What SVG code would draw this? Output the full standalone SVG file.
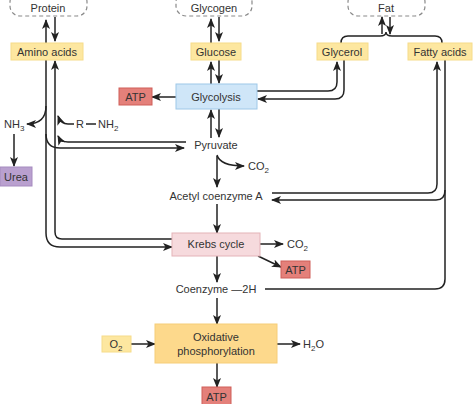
<svg xmlns="http://www.w3.org/2000/svg" width="474" height="404" viewBox="0 0 474 404">
<defs>
<marker id="ah" viewBox="0 0 10 8" refX="9" refY="4" markerWidth="10" markerHeight="8" markerUnits="userSpaceOnUse" orient="auto">
<path d="M0,0 L10,4 L0,8 L2.5,4 z" fill="#222"/>
</marker>
<style>
text{font-family:"Liberation Sans",Arial,sans-serif;font-size:11px;fill:#333;text-anchor:middle}
.dash{fill:#fff;stroke:#8a8a8a;stroke-width:1.2;stroke-dasharray:4 3}
.yel{fill:#fde7a0;stroke:#f6dc8a;stroke-width:1}
.blue{fill:#cfe6f8;stroke:#9ec8e8;stroke-width:1}
.red{fill:#e4807a;stroke:#cf5e58;stroke-width:1}
.pur{fill:#b9a0cf;stroke:#a68bbf;stroke-width:1}
.pink{fill:#f6dadd;stroke:#e4b3b8;stroke-width:1}
.org{fill:#fdd98c;stroke:#f6cd78;stroke-width:1}
.c path,.c line{fill:none;stroke:#222;stroke-width:1.5}
.a{marker-end:url(#ah)}
.lft{text-anchor:start}
</style>
</defs>
<rect width="474" height="404" fill="#fff"/>

<g class="c" id="connectors">
<!-- protein / amino acids -->
<path class="a" d="M46,43 L46,20"/>
<path class="a" d="M55,17 L55,41"/>
<!-- glycogen / glucose / glycolysis / pyruvate -->
<path class="a" d="M211,43 L211,19"/>
<path class="a" d="M219,17 L219,41"/>
<path class="a" d="M211,84 L211,62"/>
<path class="a" d="M219,60 L219,83"/>
<path class="a" d="M211,138 L211,110"/>
<path class="a" d="M219,109 L219,137"/>
<!-- glycolysis -> ATP -->
<path class="a" d="M176,97 L152,97"/>
<!-- glycolysis / glycerol -->
<path class="a" d="M257,91 L328,91 Q337,91 337,82 L337,62"/>
<path class="a" d="M344,60 L344,90 Q344,99 335,99 L258,99"/>
<!-- fat bracket -->
<path d="M341,43 Q341,36 348,36 L380,36 Q386,36 386,32 Q386,36 392,36 L435,36 Q442,36 442,43"/>
<path class="a" d="M382,34 L382,17"/>
<path class="a" d="M390,17 L390,34"/>
<!-- amino acid long lines -->
<path class="a" d="M46,60 L46,233 Q46,247 60,247 L172,247"/>
<path class="a" d="M172,239 L62,239 Q55,239 55,232 L55,61"/>
<!-- NH3 branch -->
<path class="a" d="M46,106 C46,118 40,124 27,124"/>
<path class="a" d="M14,134 L14,166"/>
<!-- R-NH2 -->
<path class="a" d="M74,124 L68,124 Q61,124 58,116"/>
<line x1="86" y1="124" x2="96" y2="124"/>
<!-- pyruvate branches -->
<path class="a" d="M46,134 Q46,148 60,148 L184,148"/>
<path class="a" d="M186,142 L68,142 Q61,142 58,136"/>
<!-- pyruvate -> CO2 -->
<path class="a" d="M217,155 Q220,166 244,166"/>
<path class="a" d="M217,156 L217,187"/>
<!-- acetyl CoA / fatty acids -->
<path class="a" d="M272,193 L428,193 Q437,193 437,184 L437,62"/>
<path d="M445,60 L445,279 Q445,289 435,289 L265,289"/>
<path class="a" d="M445,190 Q445,200 436,200 L272,200"/>
<!-- acetyl -> krebs -->
<path class="a" d="M217,204 L217,233"/>
<!-- krebs outputs -->
<path class="a" d="M260,244 L283,244"/>
<path class="a" d="M258,256 L281,267"/>
<path class="a" d="M217,256 L217,282"/>
<!-- coenzyme -> oxphos -->
<path class="a" d="M217,298 L217,324"/>
<path class="a" d="M131,344 L155,344"/>
<path class="a" d="M277,344 L300,344"/>
<path class="a" d="M217,363 L217,387"/>
</g>

<g id="protein"><rect class="dash" x="10" y="-8" width="77" height="24" rx="10"/><text x="48" y="12">Protein</text></g>
<g id="glycogen"><rect class="dash" x="176" y="-8" width="76" height="24" rx="10"/><text x="214" y="12">Glycogen</text></g>
<g id="fat"><rect class="dash" x="348" y="-8" width="77" height="24" rx="10"/><text x="386" y="12">Fat</text></g>

<g id="amino-acids"><rect class="yel" x="11" y="43" width="72" height="17"/><text x="47" y="56">Amino acids</text></g>
<g id="glucose"><rect class="yel" x="191" y="43" width="50" height="17"/><text x="216" y="56">Glucose</text></g>
<g id="glycerol"><rect class="yel" x="317" y="43" width="51" height="17"/><text x="342" y="56">Glycerol</text></g>
<g id="fatty-acids"><rect class="yel" x="408" y="43" width="64" height="17"/><text x="440" y="56">Fatty acids</text></g>

<g id="glycolysis"><rect class="blue" x="176" y="84" width="81" height="25"/><text x="216" y="101">Glycolysis</text></g>
<g id="atp1"><rect class="red" x="119" y="88" width="33" height="17"/><text x="135.5" y="101">ATP</text></g>

<g id="nh3"><text class="lft" x="4" y="128">NH<tspan font-size="8" dy="3">3</tspan></text></g>
<g id="urea"><rect class="pur" x="0" y="167" width="32" height="19"/><text x="16" y="181">Urea</text></g>
<g id="rnh2"><text class="lft" x="76" y="128">R</text><text class="lft" x="98" y="128">NH<tspan font-size="8" dy="3">2</tspan></text></g>

<g id="pyruvate"><text x="216" y="149">Pyruvate</text></g>
<g id="co2a"><text class="lft" x="248" y="170">CO<tspan font-size="8" dy="3">2</tspan></text></g>
<g id="acetyl"><text x="216" y="200">Acetyl coenzyme A</text></g>

<g id="krebs"><rect class="pink" x="172" y="233" width="88" height="23"/><text x="216" y="248">Krebs cycle</text></g>
<g id="co2b"><text class="lft" x="287" y="248">CO<tspan font-size="8" dy="3">2</tspan></text></g>
<g id="atp2"><rect class="red" x="281" y="261" width="29" height="17"/><text x="295.5" y="274">ATP</text></g>

<g id="coenzyme"><text x="216" y="293">Coenzyme —2H</text></g>

<g id="oxphos"><rect class="org" x="155" y="324" width="122" height="39"/><text x="216" y="341">Oxidative</text><text x="216" y="355">phosphorylation</text></g>
<g id="o2"><rect class="yel" x="102" y="336" width="29" height="16"/><text x="116" y="348">O<tspan font-size="8" dy="3">2</tspan></text></g>
<g id="h2o"><text class="lft" x="303" y="348">H<tspan font-size="8" dy="3">2</tspan><tspan dy="-3">O</tspan></text></g>
<g id="atp3"><rect class="red" x="202" y="387" width="29" height="18"/><text x="216.5" y="401">ATP</text></g>
</svg>
